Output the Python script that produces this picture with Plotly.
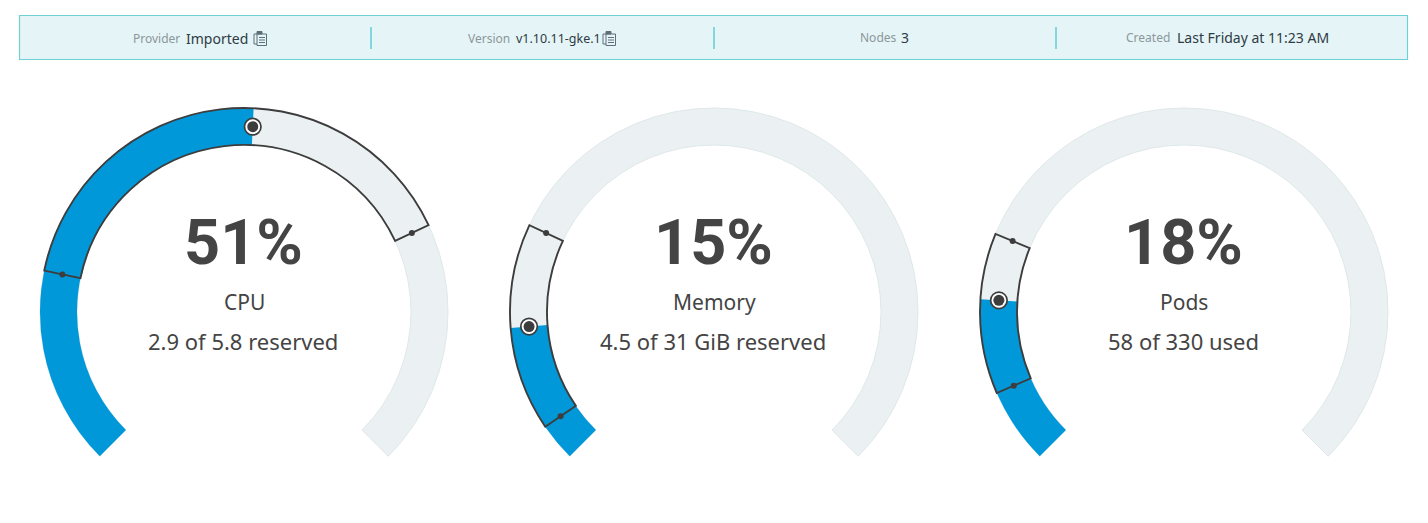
import plotly.graph_objects as go

W, H = 1428, 523

# ---- data ----
gauge_names = ["CPU", "Memory", "Pods"]
percent_values = [51, 15, 18]
low_band = [21, 4, 8]
high_band = [74, 26, 25]
detail_labels = ["2.9 of 5.8 reserved", "4.5 of 31 GiB reserved", "58 of 330 used"]
percent_labels = ["51%", "15%", "18%"]
header_keys = ["Provider", "Version", "Nodes", "Created"]
header_values = ["Imported", "v1.10.11-gke.1", "3", "Last Friday at 11:23 AM"]

# ---- layout constants ----
centers_x = [244, 714, 1184]
center_y = 312
R_OUT, R_IN = 204, 167
R_PAD = 6
R_MID = (R_OUT + R_IN) / 2
BLUE = "#0098d8"
TRACK = "#ebf1f2"
TRACK_LINE = "#dfe7e8"
DARK = "#3d3d3d"
TEXT = "#444444"
FONT = "Noto Sans"
PANEL = "#e5f4f6"
TEAL = "#6fd0d6"


def deg(p):
    return p * 2.7 - 135


def px(x):
    return x / W


def py(y):
    return 1 - y / H


fig = go.Figure()
layout_polar = {}
annotations = []
shapes = []

for i, name in enumerate(gauge_names):
    sub = "polar" if i == 0 else f"polar{i + 1}"
    cx = centers_x[i]
    outer = R_OUT + R_PAD
    layout_polar[sub] = dict(
        domain=dict(x=[px(cx - outer), px(cx + outer)],
                    y=[py(center_y + outer), py(center_y - outer)]),
        bgcolor="rgba(0,0,0,0)",
        radialaxis=dict(visible=False, range=[0, outer]),
        angularaxis=dict(visible=False, rotation=90, direction="clockwise",
                         thetaunit="degrees"),
    )
    v, lo, hi = percent_values[i], low_band[i], high_band[i]
    # full track
    fig.add_trace(go.Barpolar(subplot=sub, theta=[0], width=[270], base=[R_IN],
                              r=[R_OUT - R_IN], marker=dict(color=TRACK, line=dict(color=TRACK_LINE, width=1)),
                              hoverinfo="skip", showlegend=False))
    # value arc
    fig.add_trace(go.Barpolar(subplot=sub, theta=[deg(v / 2)], width=[v * 2.7], base=[R_IN],
                              r=[R_OUT - R_IN], marker=dict(color=BLUE, line=dict(color=BLUE, width=0)),
                              hoverinfo="skip", showlegend=False))
    # reserved band outline
    fig.add_trace(go.Barpolar(subplot=sub, theta=[deg((lo + hi) / 2)], width=[(hi - lo) * 2.7], base=[R_IN],
                              r=[R_OUT - R_IN],
                              marker=dict(color="rgba(0,0,0,0)", line=dict(color=DARK, width=1.9)),
                              hoverinfo="skip", showlegend=False))
    # band end dots
    fig.add_trace(go.Scatterpolar(subplot=sub, theta=[deg(lo), deg(hi)], r=[R_MID, R_MID], mode="markers",
                                  marker=dict(color=DARK, size=6), hoverinfo="skip", showlegend=False))
    # value marker
    fig.add_trace(go.Scatterpolar(subplot=sub, theta=[deg(v)], r=[R_MID], mode="markers",
                                  marker=dict(color="white", size=16.5, line=dict(color=DARK, width=1.7)),
                                  hoverinfo="skip", showlegend=False))
    fig.add_trace(go.Scatterpolar(subplot=sub, theta=[deg(v)], r=[R_MID], mode="markers",
                                  marker=dict(color=DARK, size=11), hoverinfo="skip", showlegend=False))

    annotations.append(dict(x=px(cx - 1), y=py(242), xref="paper", yref="paper", text=f"<b>{percent_labels[i]}</b>",
                            showarrow=False, font=dict(family="Roboto", size=63, color=TEXT),
                            xanchor="center", yanchor="middle"))
    annotations.append(dict(x=px(cx), y=py(302), xref="paper", yref="paper", text=name,
                            showarrow=False, font=dict(family=FONT, size=21, color=TEXT),
                            xanchor="center", yanchor="middle"))
    annotations.append(dict(x=px(cx - 1), y=py(341), xref="paper", yref="paper", text=detail_labels[i],
                            showarrow=False, font=dict(family=FONT, size=22, color=TEXT),
                            xanchor="center", yanchor="middle"))

# header panel
shapes.append(dict(type="rect", xref="paper", yref="paper", x0=px(19), x1=px(1408), y0=py(60), y1=py(15),
                   fillcolor=PANEL, line=dict(width=0), layer="above"))
for x0, y0, x1, y1 in [(19, 15.5, 1408, 15.5), (19, 59.5, 1408, 59.5), (19.5, 15, 19.5, 60), (1407.5, 15, 1407.5, 60)]:
    shapes.append(dict(type="line", xref="paper", yref="paper", x0=px(x0), x1=px(x1), y0=py(y0), y1=py(y1),
                       line=dict(color=TEAL, width=1.2)))
for x in [371, 714, 1056]:
    shapes.append(dict(type="line", xref="paper", yref="paper", x0=px(x), x1=px(x), y0=py(27), y1=py(49),
                       line=dict(color="#62ccd3", width=1.5)))

key_x = [133, 468, 860, 1126]
val_x = [186, 516, 901, 1177]
text_y = [38, 38, 37, 37]
val_size = [14, 12.5, 14, 14]
for k, v, kx, vx, ty, vs in zip(header_keys, header_values, key_x, val_x, text_y, val_size):
    annotations.append(dict(x=px(kx), y=py(ty), xref="paper", yref="paper", text=k, showarrow=False,
                            font=dict(family=FONT, size=12, color="#8b979b"), xanchor="left", yanchor="middle",
                            borderpad=0, borderwidth=0))
    annotations.append(dict(x=px(vx), y=py(ty), xref="paper", yref="paper", text=v, showarrow=False,
                            font=dict(family=FONT, size=vs, color="#2f3b45"), xanchor="left", yanchor="middle",
                            borderpad=0, borderwidth=0))

# clipboard icons
for ix in [260, 609]:
    c = "#5d6f78"
    shapes.append(dict(type="rect", xref="paper", yref="paper", x0=px(ix - 6), x1=px(ix + 2), y0=py(44), y1=py(34),
                       line=dict(color=c, width=1)))
    shapes.append(dict(type="rect", xref="paper", yref="paper", x0=px(ix - 3), x1=px(ix + 6.5), y0=py(45.5), y1=py(34),
                       fillcolor=PANEL, line=dict(color=c, width=1)))
    shapes.append(dict(type="rect", xref="paper", yref="paper", x0=px(ix - 3), x1=px(ix + 2), y0=py(34), y1=py(31.5),
                       fillcolor=c, line=dict(color=c, width=1)))
    for ly in [37.5, 40, 42.5]:
        shapes.append(dict(type="line", xref="paper", yref="paper", x0=px(ix - 1), x1=px(ix + 5), y0=py(ly), y1=py(ly),
                           line=dict(color=c, width=1)))

fig.update_layout(width=W, height=H, margin=dict(l=0, r=0, t=0, b=0), paper_bgcolor="white", plot_bgcolor="white",
                  showlegend=False, annotations=annotations, shapes=shapes, **layout_polar)

fig.write_html("out.html", config=dict(displayModeBar=False),
               post_script="document.body.style.margin='0';document.documentElement.style.overflow='hidden';")
